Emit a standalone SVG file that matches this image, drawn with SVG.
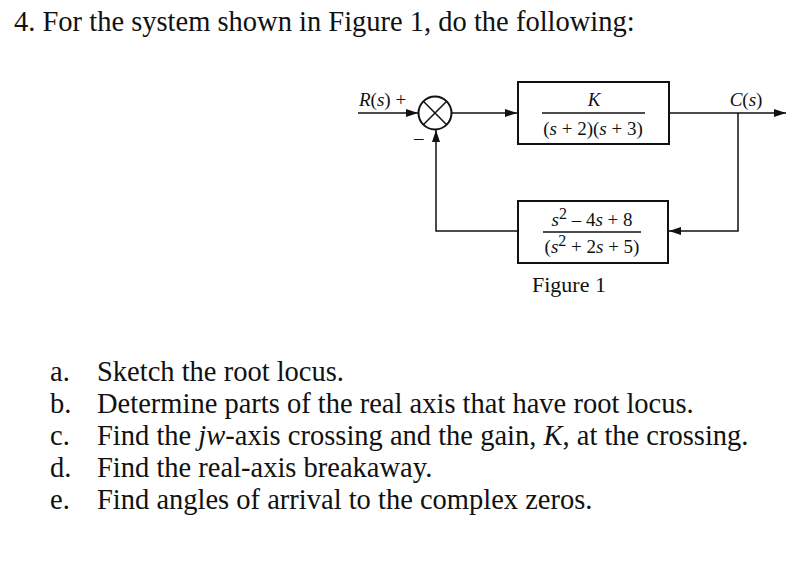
<svg xmlns="http://www.w3.org/2000/svg" width="812" height="578" viewBox="0 0 812 578">
<style>
.t{font-family:"Liberation Serif",serif;font-size:28.5px;fill:#111}
.s{font-family:"Liberation Serif",serif;font-size:19px;fill:#111}
.f{font-family:"Liberation Serif",serif;font-size:22px;fill:#111}
.i{font-style:italic}
.b{fill:#fff;stroke:#111;stroke-width:2}
.l{fill:none;stroke:#111;stroke-width:1.5}
</style>
<defs><marker id="a" markerWidth="12" markerHeight="8" refX="12" refY="4" orient="auto" markerUnits="userSpaceOnUse"><path d="M0,0L12,4L0,8z" fill="#111"/></marker></defs>
<rect width="812" height="578" fill="#fff"/>
<text class="t" x="14" y="31">4.  For the system shown in Figure 1, do the following:</text>
<g id="sum"><circle cx="435" cy="113" r="16.5" class="b" stroke-width="1.5"/><path d="M423.3,101.3L446.7,124.7M446.7,101.3L423.3,124.7" class="l"/>
<text class="s" x="359" y="106"><tspan class="i">R</tspan>(<tspan class="i">s</tspan>)  +</text><text class="s" x="414" y="144">–</text></g>
<g id="G"><rect x="518" y="82" width="151" height="62" class="b"/><line x1="542" y1="113" x2="645" y2="113" class="l" stroke-width="1"/>
<text class="s i" x="594" y="106" text-anchor="middle">K</text><text class="s" x="593" y="135" text-anchor="middle">(<tspan class="i">s</tspan> + 2)(<tspan class="i">s</tspan> + 3)</text></g>
<g id="H"><rect x="518" y="201" width="150" height="62" class="b"/><line x1="543" y1="232" x2="641" y2="232" class="l" stroke-width="1"/>
<text class="s" x="592" y="226" text-anchor="middle"><tspan class="i">s</tspan><tspan dy="-7" font-size="16">2</tspan><tspan dy="7"> – 4</tspan><tspan class="i">s</tspan> + 8</text>
<text class="s" x="592" y="253" text-anchor="middle">(<tspan class="i">s</tspan><tspan dy="-7" font-size="16">2</tspan><tspan dy="7"> + 2</tspan><tspan class="i">s</tspan> + 5)</text></g>
<text class="s" x="746" y="106" text-anchor="middle"><tspan class="i">C</tspan>(<tspan class="i">s</tspan>)</text>
<g id="connectors">
<line x1="358" y1="113" x2="418" y2="113" class="l" marker-end="url(#a)"/>
<line x1="452" y1="113" x2="517" y2="113" class="l" marker-end="url(#a)"/>
<line x1="669" y1="113" x2="786" y2="113" class="l" marker-end="url(#a)"/>
<polyline points="738,113 738,231 669,231" class="l" marker-end="url(#a)"/>
<polyline points="518,231 436,231 436,130" class="l" marker-end="url(#a)"/>
</g>
<text class="f" x="532" y="292">Figure 1</text>
<text class="t" x="50" y="381">a.</text><text class="t" x="97" y="381">Sketch the root locus.</text>
<text class="t" x="50" y="413">b.</text><text class="t" x="97" y="413">Determine parts of the real axis that have root locus.</text>
<text class="t" x="50" y="445">c.</text><text class="t" x="97" y="445">Find the <tspan class="i">jw</tspan>-axis crossing and the gain, <tspan class="i">K</tspan>, at the crossing.</text>
<text class="t" x="50" y="477">d.</text><text class="t" x="97" y="477">Find the real-axis breakaway.</text>
<text class="t" x="50" y="509">e.</text><text class="t" x="97" y="509">Find angles of arrival to the complex zeros.</text>
</svg>
